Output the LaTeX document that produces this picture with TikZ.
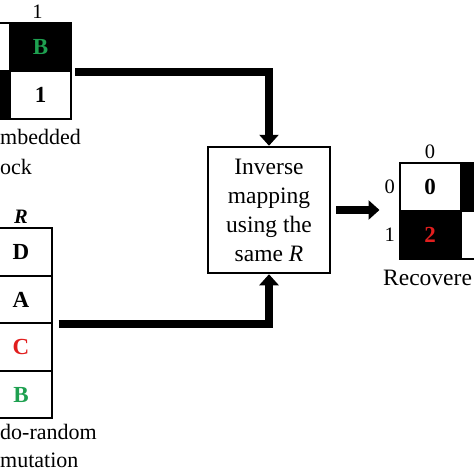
\documentclass[tikz,border=0pt]{standalone}
\usepackage{fontspec}
\setmainfont{Liberation Serif}
\usetikzlibrary{arrows.meta}
\definecolor{bgreen}{RGB}{30,160,80}
\definecolor{bred}{RGB}{225,30,30}
\tikzset{
  cell/.style={draw,rectangle,line width=2pt,minimum width=61pt,minimum height=48pt,inner sep=0pt,font=\bfseries\fontsize{23}{27}\selectfont},
  dark/.style={cell,fill=black},
  lbl/.style={font=\fontsize{20.5}{24}\selectfont},
  txt/.style={font=\fontsize{23.5}{29}\selectfont,inner sep=0pt},
  caption/.style={txt,font=\fontsize{22}{27}\selectfont,anchor=west},
  link/.style={line width=8pt,-{Triangle[width=19pt,length=11pt]}}
}

\begin{document}
\begin{tikzpicture}[x=1pt,y=-1pt]
      \useasboundingbox (0,0) rectangle (474,474);
      \clip (0,0) rectangle (474,474);

      \node[cell] (e00) at (-20.5,47){};
      \node[dark] (e10) at (-20.5,95){};
      \node[dark,text=bgreen,label={[lbl,xshift=-3pt]above:1}] (e01) at (40.5,47){B};
      \node[cell] (e11) at (40.5,95){1};
      \node[caption] (emb1) at (0,137){mbedded};
      \node[caption] (emb2) at (0,167){ock};

      \foreach \ch/\col [count=\i] in {D/black,A/black,C/bred,B/bgreen}
        \node[cell,minimum height=47.5pt,text=\col] (r\i) at (21,204.5+47.5*\i){\ch};
      \node[lbl,anchor=south] (rname) at (r1.north){\textbf{\textit{R}}};
      \node[caption] (perm1) at (0,432){do-random};
      \node[caption] (perm2) at (0,460){mutation};

      \node[draw,line width=2.5pt,minimum width=122pt,minimum height=126pt,align=center,txt] (inv) at (269,210){Inverse\\mapping\\using the\\same \textit{R}};

      \node[cell,label={[lbl]above:0},label={[lbl]left:0}] (c00) at (430,187){0};
      \node[dark] (c01) at (491,187){};
      \node[dark,text=bred,label={[lbl]left:1}] (c10) at (430,235){2};
      \node[cell] (c11) at (491,235){};
      \node[txt,anchor=west] (rec) at (383,278){Recovere};

      \draw[link,shorten <=3pt] (e01.south east) -| (inv.north);
      \draw[link,shorten <=6pt] (r2.south east) -| (inv.south);
      \draw[link,shorten <=5pt,shorten >=19pt] (inv.east) -- (inv.east -| c00.west);
\end{tikzpicture}
\end{document}
